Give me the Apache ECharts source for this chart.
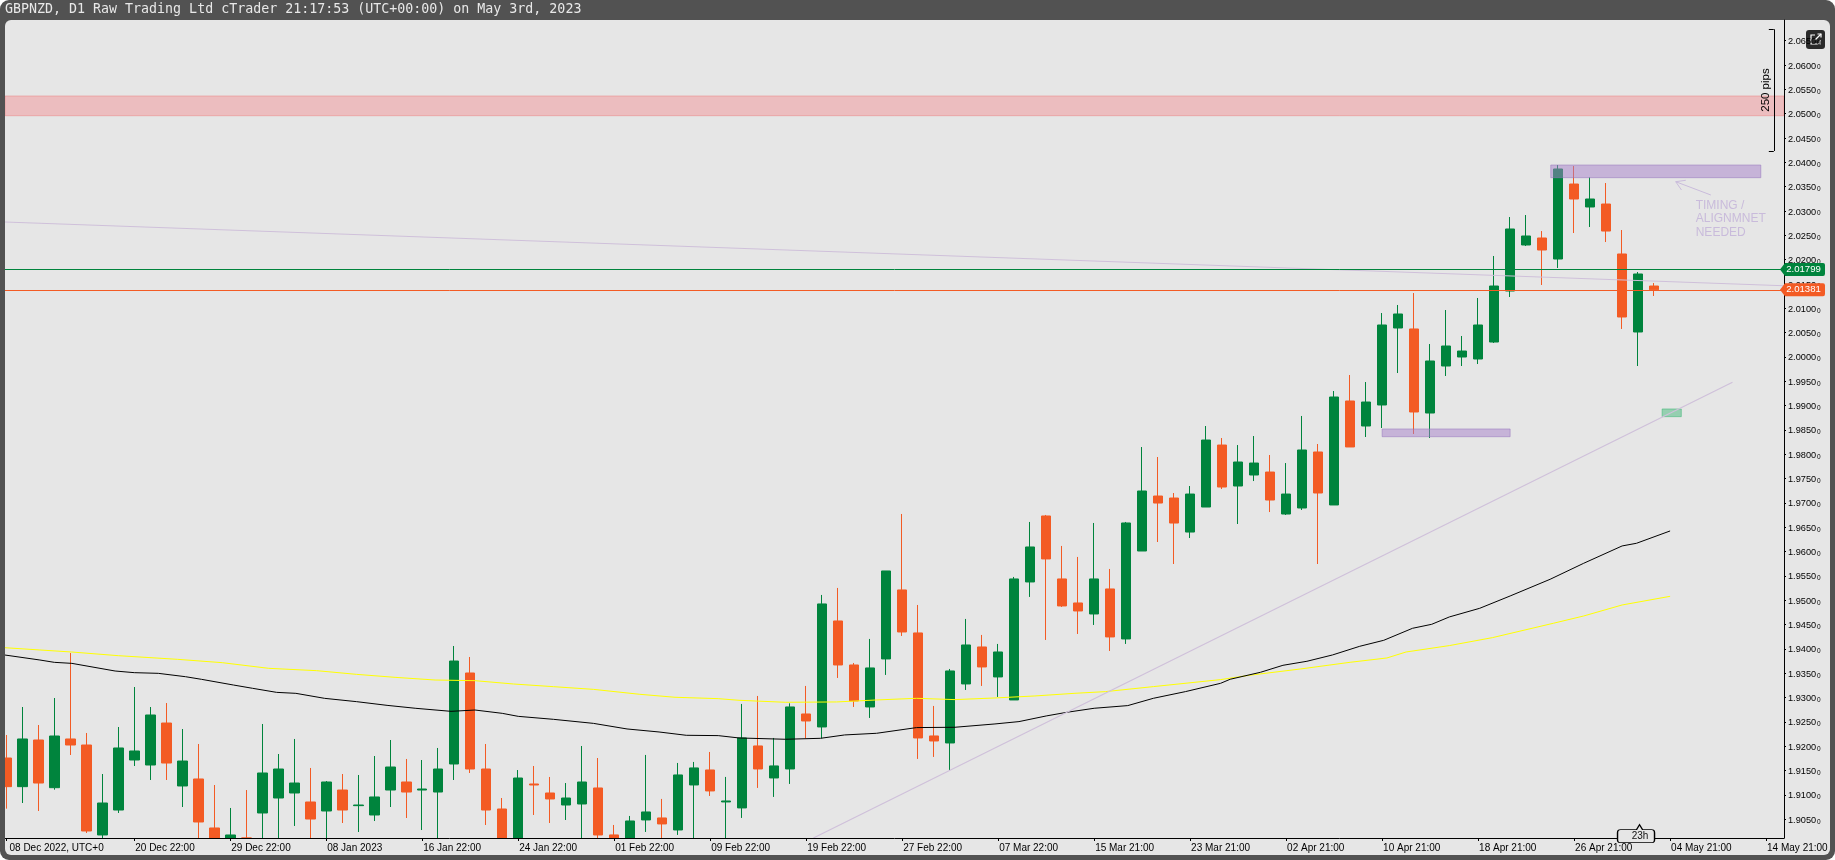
<!DOCTYPE html>
<html>
<head>
<meta charset="utf-8">
<title>GBPNZD D1</title>
<script src="https://cdn.jsdelivr.net/npm/echarts@6/dist/echarts.min.js"></script>
<style>
    html, body { margin: 0; padding: 0; background: #fff; }
    #frame { position: absolute; left: 0; top: 0; width: 1835px; height: 860px; background: #525252; border-radius: 9px; }
    #panel { position: absolute; left: 5px; top: 20px; width: 1825px; height: 835px; background: #e6e6e6; border-radius: 6px; }
    /* first candle runs off the left edge of the panel */
    #chart { position: absolute; left: 0; top: 0; width: 1835px; height: 860px; clip-path: inset(0 0 0 5px); }
</style>
</head>
<body>
<div id="frame"><div id="panel"></div></div>
<div id="chart"></div>
<script>
var titleText = 'GBPNZD, D1 Raw Trading Ltd cTrader 21:17:53 (UTC+00:00) on May 3rd, 2023';

// candle values, one entry per day (index 0 = 08 Dec 2022)
var opens = [1.91758,1.91169,1.92128,1.91148,1.92149,1.92025,1.90176,1.90689,1.91717,1.91614,1.92477,1.91183,1.91327,1.9032,1.89799,1.89662,1.90628,1.90936,1.91039,1.90854,1.90669,1.911,1.90779,1.90587,1.911,1.91265,1.911,1.91059,1.91635,1.93505,1.91532,1.9071,1.8973,1.91224,1.91039,1.90792,1.90813,1.91142,
    1.90177,1.89937,1.90485,1.90526,1.90279,1.91204,1.91512,1.90855,1.90732,1.92006,1.91348,1.91533,1.92663,1.92396,1.94574,1.9367,1.92807,1.93794,1.95212,1.94328,1.92211,1.92067,1.9328,1.9404,1.93424,1.92951,1.95376,1.96732,1.95438,1.94944,1.94718,1.95232,
    1.94205,1.96012,1.97142,1.97101,1.96402,1.96916,1.9819,1.97348,1.97574,1.97635,1.96772,
    1.96896,1.98047,1.96958,1.99095,1.98581,1.99013,2.00595,2.00575,1.98848,1.99814,1.99999,1.99958,2.00307,2.01355,2.02301,2.02445,2.02013,2.03554,2.03082,2.03143,2.02116,2.00513,2.01458];
var closes = [1.91169,1.92149,1.91244,1.9221,1.92025,1.90258,1.90833,1.91964,1.91902,1.92642,1.91655,1.91696,1.90443,1.89799,1.90176,1.89936,1.9145,1.91532,1.91244,1.90504,1.91265,1.90689,1.90792,1.90957,1.91573,1.91059,1.91121,1.91532,1.93751,1.91532,1.90689,1.89867,1.91347,1.91203,1.90916,1.90936,1.91265,1.90176,
    1.90005,1.90464,1.90649,1.90403,1.9141,1.91554,1.91081,1.90875,1.9217,1.91533,1.91595,1.92807,1.92519,1.94924,1.9367,1.9293,1.93609,1.95602,1.94348,1.9217,1.92108,1.93547,1.94081,1.93629,1.93937,1.95438,1.96095,1.95849,1.94883,1.9478,1.95438,1.94246,
    1.96588,1.97245,1.96998,1.96587,1.97183,1.98293,1.97327,1.97841,1.9782,1.9706,1.97183,
    1.98088,1.97204,1.99177,1.9815,1.99074,2.00657,2.00883,1.98869,1.99917,2.00225,2.00122,2.00657,2.01458,2.0263,2.02486,2.02198,2.03863,2.03246,2.03246,2.02588,2.00821,2.01705,2.01381];
var lows = [1.90717,1.90833,1.90669,1.91107,1.9182,1.90217,1.90059,1.90628,1.91594,1.91306,1.91306,1.90751,1.89936,1.89662,1.89662,1.89525,1.89936,1.89936,1.90361,1.90004,1.90004,1.90422,1.90237,1.90463,1.90751,1.90525,1.90278,1.90004,1.91306,1.9145,1.90381,1.89662,1.89594,1.90587,1.90422,1.90484,1.90004,1.90107,
    1.898,1.89731,1.90238,1.89868,1.90177,1.90005,1.90978,1.90005,1.90526,1.91143,1.90958,1.91225,1.92163,1.92163,1.93403,1.92807,1.92581,1.93465,1.94266,1.91739,1.9178,1.91512,1.93156,1.93239,1.93013,1.92951,1.95068,1.94184,1.94862,1.94307,1.94492,1.93958,
    1.94102,1.96012,1.96197,1.95745,1.96279,1.96916,1.97286,1.96567,1.9745,1.96813,1.96752,
    1.96855,1.95745,1.96958,1.9815,1.98355,1.9854,1.9967,1.98417,1.98335,1.99609,1.99814,1.99855,2.00287,2.01232,2.0228,2.01479,2.01828,2.02547,2.02671,2.02362,2.00575,1.99814,2.01253];
var highs = [1.92231,1.92806,1.92436,1.92991,1.93916,1.92272,1.91429,1.92395,1.93217,1.92806,1.92888,1.92354,1.92046,1.91203,1.90731,1.911,1.92457,1.9184,1.92149,1.91553,1.91285,1.91429,1.91409,1.91799,1.92128,1.91738,1.91717,1.91964,1.9406,1.93834,1.92046,1.90936,1.91511,1.91594,1.91368,1.91244,1.92005,1.91758,
    1.90382,1.90567,1.91821,1.90917,1.91656,1.91677,1.91882,1.91369,1.92869,1.93033,1.9217,1.92882,1.93239,1.95109,1.95253,1.93711,1.94205,1.95602,1.96773,1.94903,1.92828,1.93588,1.94616,1.94287,1.94102,1.95479,1.96609,1.96753,1.96116,1.9589,1.96588,1.95643,
    1.96609,1.98149,1.97944,1.97204,1.97348,1.98581,1.98334,1.9819,1.98375,1.97985,1.9782,
    1.98787,1.98211,1.993,1.99629,1.99485,2.00903,2.01068,2.01314,2.00266,2.00965,2.00431,2.01212,2.02075,2.02876,2.02917,2.02588,2.03945,2.03924,2.03691,2.03575,2.02609,2.01746,2.0152];

// moving averages, read at the bends of each line
var blackMaX = [-0.1,2.1,3,4.1,6.8,8,9.5,11.2,12.2,14.2,15.4,16.9,18.1,19.9,21.9,23.8,25.6,27.8,29.3,31,32,34.2,36.7,38.8,40.8,42.5,44.5,45.8,48.7,50.9,52.4,54.4,56.9,59.3,61.8,63.3,65,66.3,68,70.1,71.7,73.7,75.9,76.5,78.4,79.8,81.3,82.9,84.6,86.1,87.9,89.1,90.2,92.1,94,96.5,98.6,101,101.9,104];
var blackMaY = [1.93875,1.93772,1.93724,1.93703,1.93546,1.93512,1.93498,1.93429,1.93375,1.93258,1.9319,1.93107,1.93087,1.92984,1.92916,1.9284,1.92779,1.92717,1.92744,1.92676,1.92614,1.92553,1.9247,1.92355,1.92293,1.92225,1.92218,1.9217,1.92143,1.92163,1.92232,1.92266,1.92383,1.9239,1.92458,1.92506,1.92622,1.92698,1.9278,1.92835,1.92985,1.93122,1.93293,1.93376,1.9352,1.93663,1.93746,1.93876,1.94054,1.94177,1.94424,1.94506,1.94657,1.94835,1.95088,1.95431,1.9576,1.96116,1.96171,1.96424];
var yellowMaX = [-0.1,2.1,4.1,7,10.7,13.5,16.4,19.4,21.9,24.3,26.8,29.3,31.7,34.2,36.7,39.6,41.8,44.5,45.8,48.7,51.9,54.4,56.9,59.3,61.8,64.3,66.8,68.7,71.7,75.9,77.7,80.9,84,86.3,87.5,90.2,92.9,96.7,98.6,101,104];
var yellowMaY = [1.94025,1.93978,1.93936,1.93861,1.93786,1.93717,1.93601,1.93553,1.93477,1.93416,1.93361,1.93347,1.93279,1.93224,1.93169,1.93067,1.93006,1.92978,1.92944,1.92903,1.9291,1.92951,1.92985,1.92958,1.92992,1.93033,1.93088,1.93122,1.93225,1.93369,1.93458,1.93588,1.93725,1.93814,1.93937,1.94068,1.94232,1.94527,1.94677,1.94903,1.95081];

// time axis, the first label sits a little right of its tick
var xTickIndex = [0,8,14,20,26,32,38,44,50,56,62,68,74,80,86,92,98,104,110];
var xLabelIndex = [0.2,8.06,14.06,20.06,26.06,32.06,38.06,44.06,50.06,56.06,62.06,68.06,74.06,80.06,86.06,92.06,98.06,104.06,110.06];
var xTickLabels = ['08 Dec 2022, UTC+0','20 Dec 22:00','29 Dec 22:00','08 Jan 2023','16 Jan 22:00','24 Jan 22:00','01 Feb 22:00','09 Feb 22:00','19 Feb 22:00','27 Feb 22:00','07 Mar 22:00','15 Mar 21:00','23 Mar 21:00','02 Apr 21:00','10 Apr 21:00','18 Apr 21:00','26 Apr 21:00','04 May 21:00','14 May 21:00'];

// price axis
var yTicks = [1.905,1.91,1.915,1.92,1.925,1.93,1.935,1.94,1.945,1.95,1.955,1.96,1.965,1.97,1.975,1.98,1.985,1.99,1.995,2,2.005,2.01,2.015,2.02,2.025,2.03,2.035,2.04,2.045,2.05,2.055,2.06,2.065];
var xMin = -0.081, xMax = 111.119;
var yMin = 1.90114, yMax = 2.06925;

// price lines
var bidPrice = 2.01381;
var askPrice = 2.01799;

// drawn objects on the chart [from index, from price, to index, to price]
var redZone = [xMin, 2.05363, xMax, 2.04958];
var topZone = [96.54, 2.03945, 109.67, 2.03684];
var lowZone = [86, 1.9852, 94, 1.98361];
var greenZone = [103.5, 1.98931, 104.7, 1.98773];
var trendDown = [xMin, 2.02774, xMax, 2.01464];
var trendUp = [50.45, 1.90114, 107.9, 1.99479];
var arrowShaft = [106.55, 2.03328, 104.35, 2.03602];
var arrowBarbA = [104.35, 2.03602, 104.98, 2.03631];
var arrowBarbB = [104.35, 2.03602, 104.71, 2.03431];
var pipsBar = [110.48, 2.06734, 110.48, 2.04233];
var pipsCapTop = [110.17, 2.06734, 110.48, 2.06734];
var pipsCapBottom = [110.17, 2.04233, 110.48, 2.04233];

var green = '#00843d';
var orange = '#f35b24';
var lilac = '#c9bbdb';
var trendColor = '#cfc0da';
var axisFont = '"Liberation Sans", Arial, sans-serif';

function area(r, fill, border) {
    return [{ coord: [r[0], r[1]], itemStyle: { color: fill, borderColor: border, borderWidth: 1 } }, { coord: [r[2], r[3]] }];
}
function segment(r, color, width) {
    return [{ coord: [r[0], r[1]], lineStyle: { color: color, width: width, type: 'solid', opacity: 1 } }, { coord: [r[2], r[3]] }];
}
function pairs(xs, ys) {
    return xs.map(function (x, i) { return [x, ys[i]]; });
}
// candles below the time axis are cut off by it
function cut(v) {
    return Math.max(v, yMin);
}
function priceTag(price, color) {
    return {
        coord: [xMax, price],
        symbol: 'path://M0 6 L5 0 H43 Q45 0 45 2 V10 Q45 12 43 12 H5 Z',
        symbolSize: [45, 13],
        symbolOffset: [18.5, 0],
        itemStyle: { color: color },
        label: { show: true, position: 'inside', offset: [1, 0], formatter: price.toFixed(5), color: '#fff', fontSize: 9.6, fontFamily: axisFont }
    };
}

var chart = echarts.init(document.getElementById('chart'));
chart.setOption({
    animation: false,
    title: {
        text: titleText, left: 5, top: 3, padding: 0,
        textStyle: { color: '#e8e8e8', fontSize: 13.3, fontWeight: 'normal', fontFamily: '"DejaVu Sans Mono", monospace' }
    },
    grid: { left: 5, top: 20, width: 1779, height: 818, containLabel: false },
    xAxis: {
        type: 'value', min: xMin, max: xMax, splitLine: { show: false }, z: 10,
        axisLine: { show: true, onZero: false, lineStyle: { color: '#000', width: 1 } },
        axisTick: { show: true, customValues: xTickIndex, length: 3, lineStyle: { color: '#000' } },
        axisLabel: {
            customValues: xLabelIndex, hideOverlap: false, align: 'left', margin: 5,
            color: '#000', fontSize: 10, fontFamily: axisFont,
            formatter: function (v) { return xTickLabels[xLabelIndex.indexOf(v)]; }
        }
    },
    yAxis: {
        type: 'value', position: 'right', min: yMin, max: yMax, scale: true, splitLine: { show: false }, z: 10,
        axisLine: { show: true, onZero: false, lineStyle: { color: '#000', width: 1 } },
        axisTick: { show: true, customValues: yTicks, length: 2, lineStyle: { color: '#000' } },
        axisLabel: {
            customValues: yTicks, hideOverlap: false, margin: 4, padding: [2, 0, 0, 0],
            formatter: function (v) { return '{a|' + v.toFixed(4) + '}{b|0}'; },
            rich: {
                a: { color: '#000', fontSize: 9.2, fontFamily: axisFont },
                b: { color: '#000', fontSize: 6.5, fontFamily: axisFont, verticalAlign: 'bottom', padding: [3, 0, 0, 1] }
            }
        }
    },
    series: [
        {
            // red zone sits under everything else
            name: 'zones-back', type: 'line', data: [], z: 1, silent: true,
            markArea: { silent: true, z: 1, data: [area(redZone, 'rgba(245,127,132,0.4)', 'rgba(235,130,130,0.5)')] }
        },
        {
            name: 'GBPNZD', type: 'candlestick', z: 3, barWidth: 10,
            data: opens.map(function (o, i) { return [i, cut(o), cut(closes[i]), cut(lows[i]), cut(highs[i])]; }),
            encode: { x: 0, y: [1, 2, 3, 4] },
            itemStyle: { color: green, color0: orange, borderColor: green, borderColor0: orange, borderWidth: 1 }
        },
        {
            name: 'MA slow', type: 'line', z: 4, symbol: 'none', silent: true,
            data: pairs(yellowMaX, yellowMaY), lineStyle: { color: '#ffff00', width: 1 }
        },
        {
            name: 'MA fast', type: 'line', z: 4, symbol: 'none', silent: true,
            data: pairs(blackMaX, blackMaY), lineStyle: { color: '#000', width: 1 }
        },
        {
            name: 'drawings', type: 'line', data: [], z: 5, silent: true,
            markArea: {
                silent: true, z: 5,
                data: [
                    area(topZone, 'rgba(166,128,202,0.5)', 'rgba(150,115,190,0.5)'),
                    area(lowZone, 'rgba(166,128,202,0.5)', 'rgba(150,115,190,0.5)'),
                    area(greenZone, 'rgba(50,180,110,0.45)', 'rgba(50,180,110,0.5)')
                ]
            },
            markLine: {
                silent: true, symbol: 'none', z: 6, label: { show: false }, animation: false,
                data: [
                    segment(trendDown, trendColor, 1.2),
                    segment(trendUp, trendColor, 1.2),
                    segment(arrowShaft, lilac, 1),
                    segment(arrowBarbA, lilac, 1),
                    segment(arrowBarbB, lilac, 1),
                    segment(pipsBar, '#000', 1),
                    segment(pipsCapTop, '#000', 1),
                    segment(pipsCapBottom, '#000', 1),
                    [{ coord: [xMin, askPrice], lineStyle: { color: green, width: 1, type: 'solid' } }, { coord: [xMax, askPrice] }],
                    [{ coord: [xMin, bidPrice], lineStyle: { color: orange, width: 1, type: 'solid' } }, { coord: [xMax, bidPrice] }]
                ]
            },
            markPoint: {
                silent: true, z: 20,
                data: [
                    priceTag(askPrice, green),
                    priceTag(bidPrice, orange),
                    {
                        coord: [105.6, 2.02835], symbol: 'circle', symbolSize: 0,
                        label: { show: true, position: 'right', distance: 0, formatter: 'TIMING /\nALIGNMNET\nNEEDED', align: 'left', color: lilac, fontSize: 12, lineHeight: 13.3, fontFamily: axisFont }
                    },
                    {
                        coord: [109.98, 2.05486], symbol: 'circle', symbolSize: 0,
                        label: { show: true, position: 'inside', rotate: 90, formatter: '250 pips', color: '#000', fontSize: 11.5, fontFamily: axisFont }
                    },
                    {
                        coord: [101.87, 1.90203],
                        symbol: 'path://M3 5 H19 L22 0 L25 5 H34 Q37 5 37 8 V15 Q37 18 34 18 H3 Q0 18 0 15 V8 Q0 5 3 5 Z',
                        symbolSize: [37, 18],
                        itemStyle: { color: '#e6e6e6', borderColor: '#000', borderWidth: 1 },
                        label: { show: true, position: 'inside', offset: [4, 3], formatter: '23h', color: '#111', fontSize: 10, fontFamily: axisFont }
                    }
                ]
            }
        }
    ],
    graphic: [
        {
            // pop-out button in the corner
            type: 'group', left: 1806, top: 30, z: 100, silent: true,
            children: [
                { type: 'rect', shape: { x: 0, y: 0, width: 19, height: 19, r: 3 }, style: { fill: '#2b2b2b' } },
                { type: 'polyline', shape: { points: [[9, 5], [5, 5], [5, 14], [14, 14], [14, 10]] }, style: { stroke: '#fff', lineWidth: 1.2, fill: null } },
                { type: 'polyline', shape: { points: [[9, 10], [15, 4]] }, style: { stroke: '#fff', lineWidth: 1.2, fill: null } },
                { type: 'polyline', shape: { points: [[11.5, 4], [15, 4], [15, 7.5]] }, style: { stroke: '#fff', lineWidth: 1.2, fill: null } }
            ]
        }
    ]
});
</script>
</body>
</html>
